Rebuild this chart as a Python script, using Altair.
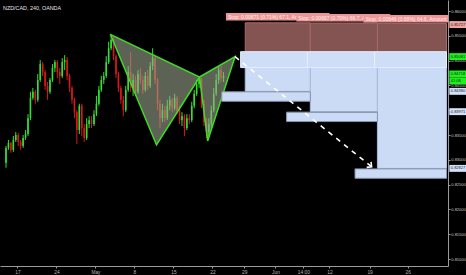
import math
import json
import altair as alt
import pandas as pd

FONT = "Liberation Sans"

# ---------------- candles (NZD/CAD) ----------------
first_open = 0.8294
close = [0.8324, 0.8334, 0.8320, 0.8340, 0.8350, 0.8336, 0.8328, 0.8344, 0.8352, 0.8384,
         0.8425, 0.8437, 0.8421, 0.8461, 0.8493, 0.8477, 0.8449, 0.8437, 0.8461, 0.8485,
         0.8497, 0.8477, 0.8469, 0.8497, 0.8501, 0.8469, 0.8445, 0.8421, 0.8396, 0.8360,
         0.8409, 0.8364, 0.8344, 0.8372, 0.8380, 0.8372, 0.8392, 0.8413, 0.8441, 0.8461,
         0.8469, 0.8497, 0.8525, 0.8542, 0.8509, 0.8473, 0.8445, 0.8421, 0.8400, 0.8441,
         0.8477, 0.8445, 0.8461, 0.8437, 0.8473, 0.8461, 0.8441, 0.8469, 0.8449, 0.8489,
         0.8505, 0.8461, 0.8413, 0.8384, 0.8400, 0.8384, 0.8409, 0.8421, 0.8404, 0.8425,
         0.8400, 0.8380, 0.8388, 0.8364, 0.8384, 0.8380, 0.8409, 0.8433, 0.8453, 0.8461,
         0.8413, 0.8376, 0.8356, 0.8372, 0.8400, 0.8433, 0.8461, 0.8481, 0.8465, 0.8469]
high = [0.8328, 0.8340, 0.8336, 0.8348, 0.8356, 0.8354, 0.8340, 0.8350, 0.8360, 0.8392,
        0.8437, 0.8445, 0.8441, 0.8473, 0.8501, 0.8497, 0.8481, 0.8457, 0.8465, 0.8493,
        0.8501, 0.8501, 0.8485, 0.8505, 0.8511, 0.8507, 0.8473, 0.8449, 0.8425, 0.8400,
        0.8413, 0.8413, 0.8372, 0.8384, 0.8388, 0.8388, 0.8400, 0.8429, 0.8449, 0.8469,
        0.8477, 0.8509, 0.8538, 0.8552, 0.8546, 0.8513, 0.8477, 0.8449, 0.8429, 0.8449,
        0.8489, 0.8517, 0.8473, 0.8469, 0.8481, 0.8485, 0.8469, 0.8477, 0.8481, 0.8497,
        0.8525, 0.8509, 0.8465, 0.8421, 0.8413, 0.8409, 0.8421, 0.8429, 0.8425, 0.8433,
        0.8429, 0.8409, 0.8396, 0.8392, 0.8392, 0.8392, 0.8417, 0.8441, 0.8461, 0.8469,
        0.8465, 0.8421, 0.8384, 0.8384, 0.8409, 0.8445, 0.8473, 0.8489, 0.8489, 0.8477]
low = [0.8284, 0.8320, 0.8314, 0.8316, 0.8336, 0.8328, 0.8320, 0.8324, 0.8340, 0.8348,
       0.8380, 0.8421, 0.8413, 0.8417, 0.8457, 0.8469, 0.8441, 0.8421, 0.8433, 0.8457,
       0.8477, 0.8465, 0.8453, 0.8465, 0.8481, 0.8461, 0.8437, 0.8413, 0.8384, 0.8332,
       0.8352, 0.8348, 0.8336, 0.8340, 0.8364, 0.8364, 0.8368, 0.8388, 0.8409, 0.8437,
       0.8453, 0.8465, 0.8493, 0.8521, 0.8501, 0.8465, 0.8437, 0.8413, 0.8388, 0.8396,
       0.8437, 0.8437, 0.8429, 0.8429, 0.8433, 0.8453, 0.8433, 0.8437, 0.8441, 0.8445,
       0.8481, 0.8453, 0.8400, 0.8364, 0.8376, 0.8376, 0.8380, 0.8400, 0.8396, 0.8400,
       0.8392, 0.8372, 0.8368, 0.8348, 0.8360, 0.8372, 0.8376, 0.8404, 0.8429, 0.8445,
       0.8404, 0.8368, 0.8344, 0.8348, 0.8364, 0.8396, 0.8429, 0.8453, 0.8457, 0.8457]
START_DAY = -2.05      # days from 17 Apr
STEP_DAY = 0.4386

# ---------------- axes ----------------
X_DOMAIN = [-2.23, 76.37]
Y_DOMAIN = [0.80859, 0.86222]
x_tick_days = [0, 7, 14, 21, 28, 35, 40.7, 46.3, 51.3, 56.0, 63.2, 70.05]
x_tick_labels = ["17", "24", "May", "8", "15", "22", "29", "Jun", "14:00", "12", "19", "26"]
y_ticks = [0.81, 0.815, 0.82, 0.825, 0.83, 0.835, 0.84, 0.845, 0.85, 0.855, 0.86]

# ---------------- harmonic pattern ----------------
pat_names = ["X", "A", "B", "C", "D"]
pat_days = [16.67, 24.96, 32.68, 34.14, 39.05]
pat_prices = [0.8553, 0.8330, 0.8467, 0.8338, 0.8508]

# ---------------- projection arrow ----------------
arrow_days = [39.05, 63.56]
arrow_prices = [0.8508, 0.8286]

# ---------------- short position tools ----------------
entry_price = 0.85081
tool_left = [40.88, 52.56, 64.6]
tool_right = [52.56, 64.6, 77.0]
stop_prices = [0.85762, 0.85758, 0.85750]
target_prices = [0.84380, 0.83971, 0.82827]
entry_band_left = [40.05, 52.04, 64.1]
entry_band_right = [52.04, 64.1, 77.0]
entry_band_top = 0.8518
entry_band_bottom = 0.8486
target_label_left = [36.67, 48.30, 60.58]
stop_label_left = [37.42, 50.05, 62.1]
stop_label_right = [56.0, 66.9, 78.8]
stop_label_lo = [0.8581, 0.8579, 0.8577]
stop_label_hi = [0.8596, 0.8594, 0.8592]
stop_label_text = ["Stop: 0.00671 (0.71%) 67.1, Amount: 1000",
                   "Stop: 0.00667 (0.70%) 66.7, Amount: 1000",
                   "Stop: 0.00646 (0.68%) 64.6, Amount: 1000"]

# ---------------- price scale labels ----------------
axis_label_text = ["0.85727", "0.85081", "0.84718", "41:08", "0.84380", "0.83971", "0.82827"]
axis_label_price = [0.85727, 0.85081, 0.84730, 0.84589, 0.84380, 0.83971, 0.82827]
axis_label_bg = ["#f2a3a3", "#1ef01e", "#1ef01e", "#1ef01e", "#d3e1fa", "#d3e1fa", "#d3e1fa"]

# ================= build tables =================
n = len(close)
opens = [first_open] + close[:-1]
candles = pd.DataFrame({
    "day": [START_DAY + STEP_DAY * i for i in range(n)],
    "open": opens, "close": close, "high": high, "low": low,
})
candles["dir"] = ["up" if c >= o else "down" for o, c in zip(opens, close)]

xs = alt.Scale(domain=X_DOMAIN, nice=False, zero=False)
ys = alt.Scale(domain=Y_DOMAIN, nice=False, zero=False)

label_expr = "%s[indexof(%s, datum.value)]" % (json.dumps(x_tick_labels), json.dumps(x_tick_days))
x_axis = alt.Axis(values=x_tick_days, labelExpr=label_expr, orient="bottom", tickSize=2,
                  labelFontSize=4.8, labelColor="#b4b4b4", domainColor="#9a9a9a",
                  tickColor="#9a9a9a", grid=False, title=None, labelPadding=1,
                  labelFlush=False, labelOverlap=False, labelBaseline="top", labelFont=FONT)
y_axis = alt.Axis(orient="right", values=y_ticks, format=".5f", tickSize=2,
                  labelFontSize=4.0, labelColor="#c8c8c8", domainColor="#9a9a9a",
                  tickColor="#9a9a9a", grid=False, title=None, labelPadding=0.8,
                  labelFlush=False, labelOverlap=False, labelFont=FONT)


def X(field):
    return alt.X(f"{field}:Q", scale=xs, axis=x_axis)


def Y(field):
    return alt.Y(f"{field}:Q", scale=ys, axis=y_axis)


color = alt.Color("dir:N", scale=alt.Scale(domain=["up", "down"], range=["#33e033", "#dc1717"]),
                  legend=None)

base = alt.Chart(candles)
wicks = base.mark_rule(strokeWidth=1).encode(x=X("day"), y=Y("low"), y2="high:Q", color=color)
bodies = base.mark_bar(size=1.6).encode(x=X("day"), y=Y("open"), y2="close:Q", color=color)

# pattern triangles: X-A-B and B-C-D
area_rows, line_rows = [], []
for tri, (i, j, k) in enumerate([(0, 1, 2), (2, 3, 4)]):
    xi, xj, xk = pat_days[i], pat_days[j], pat_days[k]
    pi, pj, pk = pat_prices[i], pat_prices[j], pat_prices[k]
    top_j = pi + (pk - pi) * (xj - xi) / (xk - xi)
    area_rows += [
        {"tri": tri, "day": xi, "lo": pi, "hi": pi},
        {"tri": tri, "day": xj, "lo": pj, "hi": top_j},
        {"tri": tri, "day": xk, "lo": pk, "hi": pk},
    ]
    for s, idx in enumerate([i, j, k, i]):
        line_rows.append({"tri": tri, "seq": s, "day": pat_days[idx], "price": pat_prices[idx]})

pat_fill = alt.Chart(pd.DataFrame(area_rows)).mark_area(color="#9ba58c", opacity=0.6).encode(
    x=X("day"), y=Y("lo"), y2="hi:Q", detail="tri:N")
pat_line = alt.Chart(pd.DataFrame(line_rows)).mark_line(color="#3fdc25", strokeWidth=1.5).encode(
    x=X("day"), y=Y("price"), detail="tri:N", order="seq:Q")

tools = pd.DataFrame({
    "left": tool_left, "right": tool_right, "stop": stop_prices,
    "target": target_prices, "entry": [entry_price] * 3,
    "band_left": entry_band_left, "band_right": entry_band_right,
    "band_top": [entry_band_top] * 3, "band_bottom": [entry_band_bottom] * 3,
    "tl_left": target_label_left,
    "tl_hi": [t - 0.0001 for t in target_prices],
    "tl_lo": [t - 0.0020 for t in target_prices],
})


def rect_layer(x1, x2, y1, y2, **kw):
    return alt.Chart(tools).mark_rect(clip=True, **kw).encode(
        x=X(x1), x2=f"{x2}:Q", y=Y(y1), y2=f"{y2}:Q")


stop_boxes = rect_layer("left", "right", "stop", "entry", color="#845452",
                        stroke="#a86a68", strokeWidth=1)
target_boxes = rect_layer("left", "right", "entry", "target", color="#cbdaf5",
                          stroke="#a9bbdb", strokeWidth=1)
entry_band = rect_layer("band_left", "band_right", "band_top", "band_bottom", color="#cfdef7",
                        stroke="#e6eefb", strokeWidth=1)
target_labels = rect_layer("tl_left", "right", "tl_hi", "tl_lo", color="#cbdaf5",
                           stroke="#8593ad", strokeWidth=1)

arrow_df = pd.DataFrame({"day": arrow_days, "price": arrow_prices})
arrow_line = alt.Chart(arrow_df).mark_line(color="#ffffff", strokeWidth=1.6,
                                           strokeDash=[5, 5]).encode(x=X("day"), y=Y("price"))
px_dx = (arrow_days[1] - arrow_days[0]) * 448 / (X_DOMAIN[1] - X_DOMAIN[0])
px_dy = (arrow_prices[0] - arrow_prices[1]) * 266 / (Y_DOMAIN[1] - Y_DOMAIN[0])
arrow_angle = math.degrees(math.atan2(px_dy, px_dx))
arrow_head = alt.Chart(arrow_df.iloc[[1]]).mark_point(
    shape="M -1 -1 L 0 0 L -1 1", filled=False, stroke="#ffffff", strokeWidth=1.6,
    size=50, angle=arrow_angle, opacity=1).encode(x=X("day"), y=Y("price"))

stop_label_layers = []
for i in range(3):
    df = pd.DataFrame({"l": [stop_label_left[i]], "r": [stop_label_right[i]],
                       "lo": [stop_label_lo[i]], "hi": [stop_label_hi[i]],
                       "mid": [(stop_label_lo[i] + stop_label_hi[i]) / 2],
                       "t": [stop_label_text[i]]})
    stop_label_layers.append(alt.Chart(df).mark_rect(color="#ec9795", clip=True).encode(
        x=X("l"), x2="r:Q", y=Y("lo"), y2="hi:Q"))
    stop_label_layers.append(alt.Chart(df).mark_text(
        align="left", baseline="middle", dx=2, fontSize=5, font=FONT,
        color="#fff1f1", clip=True).encode(x=X("l"), y=Y("mid"), text="t:N"))

ax_df = pd.DataFrame({"t": axis_label_text, "price": axis_label_price, "bg": axis_label_bg})
ax_bg = alt.Chart(ax_df).mark_point(
    shape="M -1 -0.4 H 1 V 0.4 H -1 Z", filled=True, size=300, opacity=1).encode(
    x=alt.value(458), y=Y("price"), color=alt.Color("bg:N", scale=None))
ax_text = alt.Chart(ax_df).mark_text(align="left", baseline="middle", fontSize=4.0,
                                     font=FONT, color="#1a1a1a").encode(
    x=alt.value(450.8), y=Y("price"), text="t:N")

chart = alt.layer(
    wicks, bodies, pat_fill, pat_line,
    stop_boxes, target_boxes, entry_band, target_labels,
    *stop_label_layers,
    arrow_line, arrow_head,
    ax_bg, ax_text,
).properties(
    width=448, height=266,
    padding={"left": 0, "top": 0, "right": 18, "bottom": 9},
    autosize=alt.AutoSizeParams(type="none"),
    background="#000000",
    title=alt.TitleParams("NZD/CAD, 240, OANDA", anchor="start", orient="top", frame="group",
                          offset=-11, dx=3, fontSize=5.4, font=FONT, fontWeight="normal",
                          color="#e6e6e6"),
).configure_view(stroke=None)

chart.save("out.html", embed_options={"renderer": "svg", "actions": False})
